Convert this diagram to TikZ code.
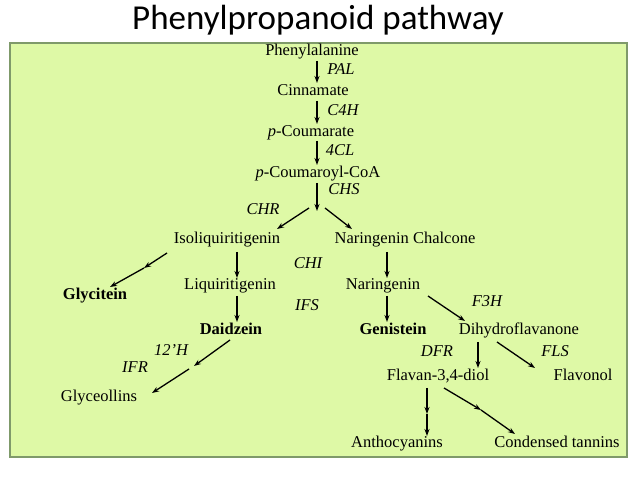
\documentclass[tikz,border=0pt]{standalone}
\usepackage{fontspec}
\setmainfont{Liberation Serif}
\newfontfamily\titlefont{Carlito}
\usetikzlibrary{arrows.meta}
\definecolor{bg}{HTML}{DEF9A6}
\definecolor{frame}{HTML}{7F9A6A}
\begin{document}
\begin{tikzpicture}[x=1pt,y=-1pt,
  cpd/.style={font=\fontsize{16.5}{18}\selectfont, inner sep=1pt, text height=11pt, text depth=4pt},
  bcpd/.style={cpd, font=\fontsize{16.5}{18}\selectfont\bfseries},
  enz/.style={font=\fontsize{16.5}{18}\selectfont\itshape, inner sep=1pt, text height=11pt, text depth=4pt},
  arr/.style={-{Stealth[length=7pt,width=5pt]}, line width=1.3pt}]
\useasboundingbox (0,0) rectangle (638,478);
\fill[white] (0,0) rectangle (638,478);
\node[font=\titlefont\fontsize{35}{38}\selectfont] (title) at (318,20) {Phenylpropanoid pathway};
\draw[frame, line width=1.2pt, fill=bg] (10,43) rectangle (627,457);
\node[cpd] (phe) at (312,52) {Phenylalanine};
\node[enz] (pal) at (341,71) {PAL};
\node[cpd] (cin) at (313,92) {Cinnamate};
\node[enz] (c4h) at (343,112) {C4H};
\node[cpd] (pcm) at (311,133) {\textit{p}-Coumarate};
\node[enz] (fcl) at (340,152) {4CL};
\node[cpd] (pcoa) at (318,174) {\textit{p}-Coumaroyl-CoA};
\node[enz] (chs) at (344,191) {CHS};
\node[enz] (chr) at (263,211) {CHR};
\node[cpd] (iso) at (227,240) {Isoliquiritigenin};
\node[cpd] (nch) at (405,240) {Naringenin Chalcone};
\node[enz] (chi) at (308,265) {CHI};
\node[bcpd] (gly) at (95,296) {Glycitein};
\node[cpd] (liq) at (230,286) {Liquiritigenin};
\node[cpd] (nar) at (383,286) {Naringenin};
\node[enz] (f3h) at (487,303) {F3H};
\node[enz] (ifs) at (307,307) {IFS};
\node[bcpd] (dai) at (231,331) {Daidzein};
\node[bcpd] (gen) at (393,331) {Genistein};
\node[cpd] (dhf) at (519,331) {Dihydroflavanone};
\node[enz] (h12) at (171,352) {12'H};
\node[enz] (ifr) at (135,369) {IFR};
\node[enz] (dfr) at (437,353) {DFR};
\node[enz] (fls) at (555,353) {FLS};
\node[cpd] (fla) at (438,377) {Flavan-3,4-diol};
\node[cpd] (flv) at (583,377) {Flavonol};
\node[cpd] (glc) at (99,398) {Glyceollins};
\node[cpd] (ant) at (397,444) {Anthocyanins};
\node[cpd] (con) at (557,444) {Condensed tannins};
\coordinate (a0) at (317,61); \coordinate (a1) at (317,83);
\coordinate (b0) at (317,101); \coordinate (b1) at (317,124);
\coordinate (c0) at (317,141); \coordinate (c1) at (317,165);
\coordinate (d0) at (317,183); \coordinate (d1) at (317,211);
\draw[arr] (a0) -- (a1); \draw[arr] (b0) -- (b1);
\draw[arr] (c0) -- (c1); \draw[arr] (d0) -- (d1);
\coordinate (e0) at (309,208); \coordinate (e1) at (277,229);
\coordinate (f0) at (325,208); \coordinate (f1) at (352,229);
\draw[arr] (e0) -- (e1); \draw[arr] (f0) -- (f1);
\coordinate (g0) at (167,253); \coordinate (g1) at (144,268); \coordinate (g2) at (110,287);
\draw[arr] (g0) -- (g1); \draw[arr] (g1) -- (g2);
\coordinate (h0) at (237,252); \coordinate (h1) at (237,278);
\coordinate (i0) at (387,252); \coordinate (i1) at (387,278);
\draw[arr] (h0) -- (h1); \draw[arr] (i0) -- (i1);
\coordinate (j0) at (237,296); \coordinate (j1) at (237,322);
\coordinate (k0) at (387,296); \coordinate (k1) at (387,322);
\draw[arr] (j0) -- (j1); \draw[arr] (k0) -- (k1);
\coordinate (l0) at (428,296); \coordinate (l1) at (465,321);
\draw[arr] (l0) -- (l1);
\coordinate (m0) at (230,340); \coordinate (m1) at (194,366);
\coordinate (m2) at (189,369); \coordinate (m3) at (152,393);
\draw[arr] (m0) -- (m1); \draw[arr] (m2) -- (m3);
\coordinate (n0) at (478,342); \coordinate (n1) at (478,368);
\coordinate (o0) at (497,342); \coordinate (o1) at (535,368);
\draw[arr] (n0) -- (n1); \draw[arr] (o0) -- (o1);
\coordinate (p0) at (427,388); \coordinate (p1) at (427,414); \coordinate (p2) at (427,436);
\draw[arr] (p0) -- (p1); \draw[arr] (p1) -- (p2);
\coordinate (q0) at (444,388); \coordinate (q1) at (481,410); \coordinate (q2) at (515,434);
\draw[arr] (q0) -- (q1); \draw[arr] (q1) -- (q2);
\end{tikzpicture}
\end{document}
